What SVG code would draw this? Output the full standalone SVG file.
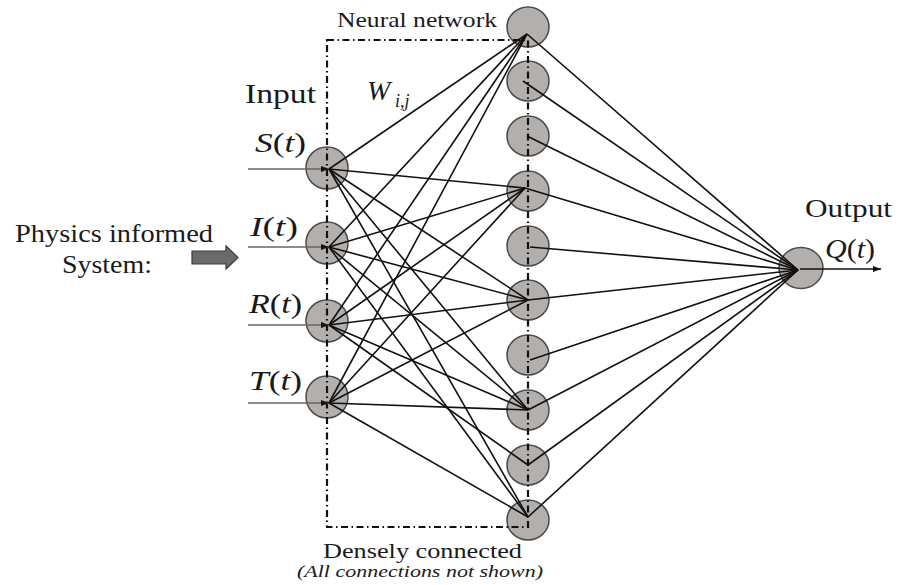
<svg xmlns="http://www.w3.org/2000/svg" width="900" height="585" viewBox="0 0 900 585">
<defs>
<marker id="ah" markerUnits="userSpaceOnUse" markerWidth="8" markerHeight="6" refX="8" refY="3" orient="auto">
<path d="M0,0 L8,3 L0,6 Z" fill="#111"/>
</marker>
<style>
.node{fill:#b3afad;stroke:#4a4a4a;stroke-width:1.5}
.c{stroke:#111;stroke-width:1.6;fill:none}
.in{stroke:#666;stroke-width:1.4;fill:none}
.frame{stroke:#111;stroke-width:2.2;fill:none;stroke-dasharray:7 3.5 1.5 3.5}
text{font-family:"Liberation Serif","Times New Roman",Times,serif;fill:#1a1a1a}
</style>
</defs>
<rect width="900" height="585" fill="#fff"/>

<g id="input-nodes">
<circle id="in-S" class="node" cx="327" cy="168" r="21"/>
<circle id="in-I" class="node" cx="327" cy="243" r="21"/>
<circle id="in-R" class="node" cx="327" cy="321" r="21"/>
<circle id="in-T" class="node" cx="327" cy="397" r="21"/>
</g>
<g id="hidden-nodes">
<ellipse id="h1" class="node" cx="528" cy="27" rx="21" ry="20"/>
<ellipse id="h2" class="node" cx="528" cy="81" rx="21" ry="20"/>
<ellipse id="h3" class="node" cx="528" cy="136" rx="21" ry="20"/>
<ellipse id="h4" class="node" cx="528" cy="191" rx="21" ry="20"/>
<ellipse id="h5" class="node" cx="528" cy="246" rx="21" ry="20"/>
<ellipse id="h6" class="node" cx="528" cy="300" rx="21" ry="20"/>
<ellipse id="h7" class="node" cx="528" cy="355" rx="21" ry="20"/>
<ellipse id="h8" class="node" cx="528" cy="410" rx="21" ry="20"/>
<ellipse id="h9" class="node" cx="528" cy="465" rx="21" ry="20"/>
<ellipse id="h10" class="node" cx="528" cy="520" rx="21" ry="20"/>
</g>
<g id="output-node">
<ellipse id="out-Q" class="node" cx="801" cy="268" rx="22" ry="20.5"/>
</g>

<g id="frame">
<path class="frame" d="M327,40 H528 V527 H327 Z"/>
</g>

<g id="connectors">
<line class="in" x1="248" y1="169" x2="329" y2="169" marker-end="url(#ah)"/>
<line class="in" x1="248" y1="247" x2="329" y2="247" marker-end="url(#ah)"/>
<line class="in" x1="248" y1="325" x2="329" y2="325" marker-end="url(#ah)"/>
<line class="in" x1="248" y1="403" x2="329" y2="403" marker-end="url(#ah)"/>

<g class="c">
<line x1="329" y1="169" x2="527" y2="34"/>
<line x1="329" y1="169" x2="525" y2="188"/>
<line x1="329" y1="169" x2="528" y2="300"/>
<line x1="329" y1="169" x2="528" y2="410"/>
<line x1="329" y1="169" x2="528" y2="517"/>

<line x1="329" y1="247" x2="527" y2="34"/>
<line x1="329" y1="247" x2="525" y2="188"/>
<line x1="329" y1="247" x2="528" y2="300"/>
<line x1="329" y1="247" x2="528" y2="410"/>
<line x1="329" y1="247" x2="528" y2="517"/>

<line x1="329" y1="325" x2="527" y2="34"/>
<line x1="329" y1="325" x2="525" y2="188"/>
<line x1="329" y1="325" x2="528" y2="300"/>
<line x1="329" y1="325" x2="528" y2="410"/>
<line x1="329" y1="325" x2="528" y2="465"/>

<line x1="329" y1="403" x2="527" y2="34"/>
<line x1="329" y1="403" x2="525" y2="188"/>
<line x1="329" y1="403" x2="528" y2="300"/>
<line x1="329" y1="403" x2="528" y2="410"/>
<line x1="329" y1="403" x2="528" y2="517"/>

<line x1="527" y1="34" x2="798" y2="270"/>
<line x1="523" y1="81" x2="798" y2="270"/>
<line x1="527" y1="136" x2="798" y2="270"/>
<line x1="525" y1="188" x2="798" y2="270"/>
<line x1="530" y1="247" x2="798" y2="270"/>
<line x1="528" y1="300" x2="798" y2="270"/>
<line x1="530" y1="360" x2="798" y2="270"/>
<line x1="528" y1="410" x2="798" y2="270"/>
<line x1="528" y1="465" x2="798" y2="270"/>
<line x1="528" y1="517" x2="798" y2="270"/>
</g>
<line class="c" x1="800" y1="269" x2="881" y2="269" marker-end="url(#ah)"/>
</g>

<g id="system-arrow">
<path d="M192,251 H226 V246 L238,257.5 L226,269 V264 H192 Z" fill="#6a6a6a" stroke="#3a3a3a" stroke-width="1.2"/>
</g>

<g id="labels">
<text x="337" y="27" font-size="21" textLength="160" lengthAdjust="spacingAndGlyphs">Neural network</text>
<text x="245" y="103" font-size="27" textLength="71" lengthAdjust="spacingAndGlyphs">Input</text>
<text x="367" y="100" font-size="28" font-style="italic">W</text>
<text x="395" y="107" font-size="18" font-style="italic">i,j</text>
<text x="255" y="152" font-size="27" textLength="51" lengthAdjust="spacingAndGlyphs"><tspan font-style="italic">S</tspan>(<tspan font-style="italic">t</tspan>)</text>
<text x="250" y="236" font-size="27" textLength="48" lengthAdjust="spacingAndGlyphs"><tspan font-style="italic">I</tspan>(<tspan font-style="italic">t</tspan>)</text>
<text x="249" y="313" font-size="27" textLength="53" lengthAdjust="spacingAndGlyphs"><tspan font-style="italic">R</tspan>(<tspan font-style="italic">t</tspan>)</text>
<text x="249" y="390" font-size="27" textLength="53" lengthAdjust="spacingAndGlyphs"><tspan font-style="italic">T</tspan>(<tspan font-style="italic">t</tspan>)</text>
<text x="15" y="242" font-size="26" textLength="198" lengthAdjust="spacingAndGlyphs">Physics informed</text>
<text x="62" y="273" font-size="26" textLength="90" lengthAdjust="spacingAndGlyphs">System:</text>
<text x="805" y="217" font-size="26" textLength="87" lengthAdjust="spacingAndGlyphs">Output</text>
<text x="825" y="258" font-size="27" textLength="50" lengthAdjust="spacingAndGlyphs"><tspan font-style="italic">Q</tspan>(<tspan font-style="italic">t</tspan>)</text>
<text x="323" y="558" font-size="22" textLength="199" lengthAdjust="spacingAndGlyphs">Densely connected</text>
<text x="297" y="577" font-size="17" font-style="italic" textLength="246" lengthAdjust="spacingAndGlyphs">(All connections not shown)</text>
</g>
</svg>
